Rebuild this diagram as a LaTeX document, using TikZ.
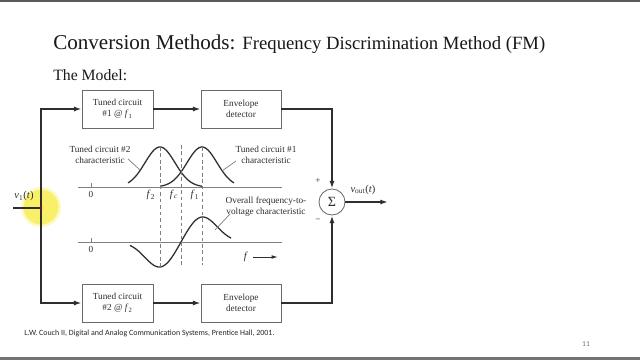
\documentclass[tikz,border=0pt]{standalone}
\usepackage{fontspec}
\setmainfont{Liberation Serif}
\newfontfamily\footfont{Carlito}
\usetikzlibrary{arrows.meta,positioning,calc}
\definecolor{ink}{HTML}{2E2E2E}
\definecolor{frame}{HTML}{6A6A6A}
\definecolor{axisgray}{HTML}{808080}
\definecolor{hilite}{HTML}{F8F060}
\newcommand{\itsub}[2]{\textit{#1}\textsubscript{#2}}

\begin{document}
\begin{tikzpicture}[x=0.25mm,y=-0.25mm,
		diag/.style={font=\fontsize{6.6}{7.8}\selectfont, text=ink},
		block/.style={draw=frame, line width=0.5pt, align=center, inner sep=0pt, minimum height=9.5mm, diag},
		sig/.style={draw=ink, line width=1.1pt, -{Latex[length=5.5pt,width=3.6pt]}},
		wire/.style={draw=ink, line width=1.1pt},
		curve/.style={ink, line width=0.9pt, smooth, samples=70},
		guide/.style={axisgray, line width=0.5pt, dash pattern=on 2.6pt off 2pt},
		leader/.style={axisgray, line width=0.5pt}]
	\useasboundingbox (0,0) rectangle (640,360);
	\fill[white] (0,0) rectangle (640,360);
	% Slide edges
	\fill[black!65] (0,0) rectangle (640,2);
	\fill[black!55] (0,357) rectangle (640,360);

	% Title
	\node[anchor=base west, inner sep=0pt, text=black!90] (title) at (53,50)
		{\fontsize{15}{18}\selectfont Conversion Methods: {\fontsize{13.3}{16}\selectfont Frequency Discrimination Method (FM)}};
	\node[anchor=base west, inner sep=0pt, text=black!90] (model) at (53,81)
		{\fontsize{11.2}{13}\selectfont The Model:};

	% Pointer highlight
	\fill[hilite!55, opacity=0.7] (41,207) circle (20);
	\fill[hilite, opacity=0.9] (41,207) circle (17.5);

	% Blocks
	\node[block, minimum width=17.75mm] (tc1) at (117.5,109) {Tuned circuit\\\#1 @ \itsub{f}{1}};
	\node[block, minimum width=20mm] (env1) at (241,109) {Envelope\\detector};
	\node[block, minimum width=17.75mm] (tc2) at (117.5,303) {Tuned circuit\\\#2 @ \itsub{f}{2}};
	\node[block, minimum width=20mm] (env2) at (241,303) {Envelope\\detector};
	\node[draw=frame, line width=0.6pt, circle, minimum size=6.5mm, inner sep=0pt,
		font=\fontsize{10}{10}\selectfont, text=ink] (sum) at (332,202) {Σ};

	% Signal paths
	\coordinate (vin) at (13,208);
	\coordinate (split) at (41,208);
	\coordinate (vout) at (388,202);
	\draw[wire] (vin) -- (split);
	\draw[sig] (split) |- (tc1.west);
	\draw[sig] (split) |- (tc2.west);
	\draw[sig] (tc1) -- (env1);
	\draw[sig] (tc2) -- (env2);
	\draw[sig] (env1.east) -| (sum.north);
	\draw[sig] (env2.east) -| (sum.south);
	\draw[sig] (sum.east) -- (vout);
	\fill[red!75!black] (split) circle (1.3);

	\node[diag, font=\fontsize{7.5}{8}\selectfont] (vinlab) at (24,196) {\itsub{v}{1}(\textit{t})};
	\node[diag, font=\fontsize{7.5}{8}\selectfont] (voutlab) at (363,190) {\itsub{v}{out}(\textit{t})};
	\node[diag] (plus) at (318,181) {+};
	\node[diag] (minus) at (318,221) {\textminus};

	% Upper plot: the two tuned-circuit responses
	\draw[axisgray, line width=0.6pt] (78,187) -- (282,187);
	\draw[axisgray, line width=0.5pt] (91,183) -- (91,187);
	\node[diag] (zeroA) at (91,194) {0};
	\draw[curve, domain=128:202, variable=\x] plot ({\x},{187-40*exp(-(\x-160)^2/450)});
	\draw[curve, domain=160:234, variable=\x] plot ({\x},{187-40*exp(-(\x-202)^2/450)});

	% Lower plot: the overall characteristic
	\draw[axisgray, line width=0.6pt] (78,242) -- (282,242);
	\draw[axisgray, line width=0.5pt] (91,238) -- (91,242);
	\node[diag] (zeroB) at (91,249) {0};
	\draw[curve, domain=130:231, variable=\x]
		plot ({\x},{242-25.5*(exp(-(\x-202)^2/450)-exp(-(\x-160)^2/450))});

	% Frequency markers
	\draw[guide] (160,147) -- (160,267);
	\draw[guide] (181,145) -- (181,265);
	\draw[guide] (202,147) -- (202,265);
	\node[diag, font=\fontsize{7.5}{8}\selectfont] (ftwo) at (151,195) {\itsub{f}{2}};
	\node[diag, font=\fontsize{7.5}{8}\selectfont] (fc) at (174,195) {\itsub{f}{\textit{c}}};
	\node[diag, font=\fontsize{7.5}{8}\selectfont] (fone) at (195,195) {\itsub{f}{1}};

	% Labels with leaders
	\node[diag, align=center] (lab2) at (100,155) {Tuned circuit \#2\\characteristic};
	\draw[leader] (128,159) -- (140,170);
	\node[diag, align=center] (lab1) at (266,155) {Tuned circuit \#1\\characteristic};
	\draw[leader] (222,171) -- (236,161);
	\node[diag, align=center] (lab3) at (266,207) {Overall frequency-to-\\voltage characteristic};
	\draw[leader] (215,230) -- (230,214);

	\node[diag, font=\fontsize{7.5}{8}\selectfont] (fax) at (246,257) {\textit{f}};
	\coordinate (fend) at (278,257);
	\draw[draw=ink, line width=0.7pt, -{Latex[length=4.5pt,width=2.6pt]}] (fax) -- (fend);

	% Footer
	\node[anchor=base west, inner sep=0pt, text=black!85, font=\footfont\fontsize{5.65}{6.5}\selectfont] (cite) at (24,335)
		{L.W. Couch II, Digital and Analog Communication Systems, Prentice Hall, 2001.};
	\node[text=black!55, font=\footfont\fontsize{5.3}{6}\selectfont] (page) at (586,344) {11};
\end{tikzpicture}
\end{document}
